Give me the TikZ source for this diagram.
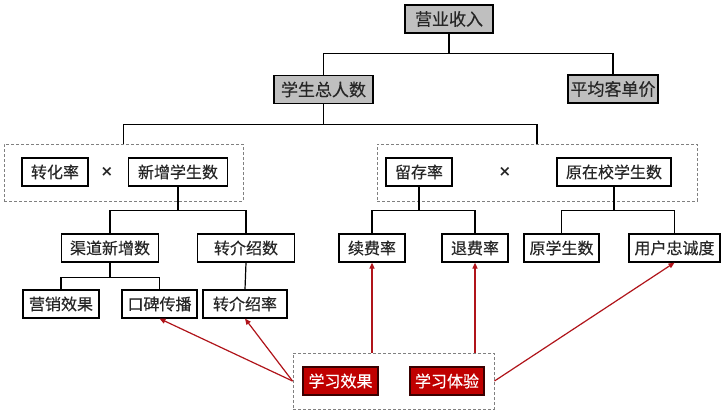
\documentclass[tikz,border=0pt]{standalone}
\usepackage{fontspec}
\newfontfamily\cjk[FakeBold=0.4]{Noto Sans CJK SC}
\newfontfamily\dejavu{DejaVu Sans}
\usetikzlibrary{arrows.meta}
\definecolor{boxgray}{HTML}{BFBFBF}
\definecolor{boxred}{HTML}{C00000}
\definecolor{arrred}{HTML}{B0141A}
\definecolor{dashgray}{HTML}{808080}
\tikzset{
  plainbox/.style={draw=black, line width=1.2pt, inner sep=0pt, minimum height=28pt,
    font=\cjk\fontsize{16}{16}\selectfont, text=black!85},
  graybox/.style={plainbox, fill=boxgray, font=\cjk\fontsize{17}{17}\selectfont},
  redbox/.style={plainbox, fill=boxred, text=white, draw=black!70!boxred},
  grpbox/.style={draw=dashgray, dash pattern=on 3pt off 2pt, line width=1pt, inner sep=0pt},
  tline/.style={draw=black, line width=1.2pt},
  redarr/.style={draw=arrred, line width=1.2pt, -{Triangle[length=6pt,width=5pt]}},
  times/.style={font=\dejavu\bfseries\fontsize{15}{15}\selectfont, inner sep=0pt, text=black!85}
}
\begin{document}
\begin{tikzpicture}[x=1pt,y=-1pt]
\useasboundingbox[fill=white] (0,0) rectangle (725,412);
% groups
\node[grpbox, minimum width=239pt, minimum height=57pt] (lgrp) at (123.5,172.5) {};
\node[grpbox, minimum width=320pt, minimum height=57pt] (rgrp) at (537,172.5) {};
\node[grpbox, minimum width=201pt, minimum height=56pt] (learn) at (393.5,381) {};
% level 1-2
\node[graybox, minimum width=88pt] (rev) at (449,19) {营业收入};
\node[graybox, minimum width=99pt] (stu) at (323.5,89.5) {学生总人数};
\node[graybox, minimum width=90pt] (avg) at (613,89) {平均客单价};
% level 3
\node[plainbox, minimum width=66pt] (conv) at (55,172) {转化率};
\node[times] (x1) at (107,172) {×};
\node[plainbox, minimum width=99pt] (new) at (178,172) {新增学生数};
\node[plainbox, minimum width=66pt] (ret) at (419,172) {留存率};
\node[times] (x2) at (505,172) {×};
\node[plainbox, minimum width=114pt] (orig) at (614,172) {原在校学生数};
% level 4
\node[plainbox, minimum width=97pt] (ch) at (110,248) {渠道新增数};
\node[plainbox, minimum width=97pt] (ref) at (246,248) {转介绍数};
\node[plainbox, minimum width=66pt] (ren) at (372,248) {续费率};
\node[plainbox, minimum width=66pt] (refund) at (475,248) {退费率};
\node[plainbox, minimum width=75pt] (old) at (561.5,248) {原学生数};
\node[plainbox, minimum width=91pt] (loyal) at (674.5,248) {用户忠诚度};
% level 5
\node[plainbox, minimum width=76pt] (mk) at (61,304) {营销效果};
\node[plainbox, minimum width=75pt] (wom) at (159.5,304) {口碑传播};
\node[plainbox, minimum width=84pt] (rr) at (245,304) {转介绍率};
% learning
\node[redbox, minimum width=75pt] (eff) at (340.5,381) {学习效果};
\node[redbox, minimum width=74pt] (exp) at (447,381) {学习体验};
% tree lines
\draw[tline] (rev.south) -- ++(0,20) -| (stu.north);
\draw[tline] (rev.south) ++(0,20) -| (avg.north);
\draw[tline] (stu.south) -- ++(0,20.5) -| (lgrp.north);
\draw[tline] (stu.south) ++(0,20.5) -| (rgrp.north);
\draw[tline] (new.south) -- ++(0,24) -| (ch.north);
\draw[tline] (new.south) ++(0,24) -| (ref.north);
\draw[tline] (ret.south) -- ++(0,24) -| (ren.north);
\draw[tline] (ret.south) ++(0,24) -| (refund.north);
\draw[tline] (orig.south) -- ++(0,24) -| (old.north);
\draw[tline] (orig.south) ++(0,24) -| (loyal.north);
\draw[tline] (ch.south) -- ++(0,15) -| (mk.north);
\draw[tline] (ch.south) ++(0,15) -| (wom.north);
\draw[tline] (ref.south) -- (rr.north);
% red arrows
\draw[redarr] (learn.west) -- (wom.south);
\draw[redarr] (learn.west) -- (rr.south);
\draw[redarr] (ren.south |- learn.north) -- (ren.south);
\draw[redarr] (refund.south |- learn.north) -- (refund.south);
\draw[redarr] (learn.east) -- (loyal.south);
\end{tikzpicture}
\end{document}
